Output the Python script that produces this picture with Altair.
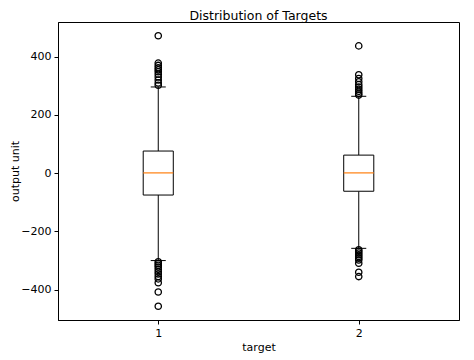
import altair as alt
import pandas as pd

# ---- data ----
categories = [1, 2]
q1 = [-75, -62]
median = [1, 1]
q3 = [76, 62]
whisker_low = [-300, -258]
whisker_high = [296, 264]
outliers_1 = [472, 378, 370, 362, 355, 348, 340, 330, 320, 310, 302,
              -304, -310, -316, -322, -330, -338, -346, -355, -363, -376, -408, -457]
outliers_2 = [437, 338, 325, 314, 304, 296, 288, 281, 274, 268,
              -263, -268, -274, -280, -286, -292, -298, -309, -340, -355]

box_half = 0.075
cap_half = 0.0375

stats = pd.DataFrame({
    "pos": categories,
    "q1": q1, "median": median, "q3": q3,
    "lo": whisker_low, "hi": whisker_high,
})
outl = pd.DataFrame({
    "pos": [1] * len(outliers_1) + [2] * len(outliers_2),
    "value": outliers_1 + outliers_2,
})

xscale = alt.Scale(domain=[0.5, 2.5], nice=False, zero=False)
yscale = alt.Scale(domain=[-504, 519], nice=False, zero=False)

xaxis = alt.Axis(values=[1, 2], format="d", title="target", grid=False, tickSize=4,
                 labelPadding=3, titlePadding=3, labelFontSize=11, titleFontSize=11,
                 domainColor="black", tickColor="black", labelColor="black", titleColor="black",
                 labelFont="DejaVu Sans", titleFont="DejaVu Sans", titleFontWeight="normal")
yaxis = alt.Axis(values=[-400, -200, 0, 200, 400], title="output unit", grid=False, tickSize=4,
                 labelPadding=3, titlePadding=0, labelFontSize=11, titleFontSize=11,
                 labelExpr="replace(datum.label, '-', '\u2212')",
                 domainColor="black", tickColor="black", labelColor="black", titleColor="black",
                 labelFont="DejaVu Sans", titleFont="DejaVu Sans", titleFontWeight="normal")

base = alt.Chart(stats).transform_calculate(
    bl=f"datum.pos - {box_half}", br=f"datum.pos + {box_half}",
    cl=f"datum.pos - {cap_half}", cr=f"datum.pos + {cap_half}",
)

whisk_low = base.mark_rule(color="black", strokeWidth=1).encode(
    x=alt.X("pos:Q", scale=xscale, axis=xaxis),
    y=alt.Y("lo:Q", scale=yscale, axis=yaxis),
    y2="q1:Q",
)
whisk_high = base.mark_rule(color="black", strokeWidth=1).encode(
    x="pos:Q", y="q3:Q", y2="hi:Q",
)
cap_low = base.mark_rule(color="black", strokeWidth=1).encode(
    x="cl:Q", x2="cr:Q", y="lo:Q",
)
cap_high = base.mark_rule(color="black", strokeWidth=1).encode(
    x="cl:Q", x2="cr:Q", y="hi:Q",
)
box = base.mark_rect(fill="white", stroke="black", strokeWidth=1).encode(
    x="bl:Q", x2="br:Q", y="q1:Q", y2="q3:Q",
)
med = base.mark_rule(color="#ff7f0e", strokeWidth=1.2).encode(
    x="bl:Q", x2="br:Q", y="median:Q",
)
points = alt.Chart(outl).mark_point(shape="circle", filled=False, color="black",
                                    size=40, strokeWidth=1.3, opacity=1).encode(
    x="pos:Q", y="value:Q",
)

chart = alt.layer(whisk_low, whisk_high, cap_low, cap_high, box, med, points).properties(
    width=401, height=298,
    title=alt.Title("Distribution of Targets", fontSize=12.5, font="DejaVu Sans",
                    fontWeight="normal", color="black", offset=0),
    autosize=alt.AutoSizeParams(type="none"),
    padding={"left": 50, "top": 14, "right": 7, "bottom": 37},
).configure_view(stroke="black", strokeWidth=1)

chart.save("out.html", embed_options={"renderer": "svg", "actions": False})
